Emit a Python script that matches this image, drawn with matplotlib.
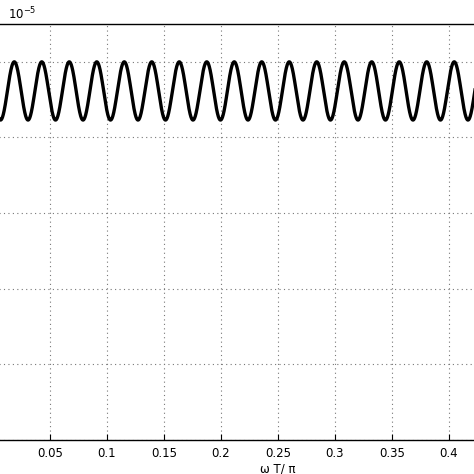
import numpy as np
import matplotlib
matplotlib.use("Agg")
import matplotlib.pyplot as plt

x_ticks = [0.05, 0.1, 0.15, 0.2, 0.25, 0.3, 0.35, 0.4]
x_tick_labels = ["0.05", "0.1", "0.15", "0.2", "0.25", "0.3", "0.35", "0.4"]
y_ticks = [0, 1, 2, 3, 4, 5]
peak_level = 5.0
trough_level = 4.23
period = 0.02412
peak_at = 0.1875

x = np.linspace(0, 0.5, 4000)
mid = (peak_level + trough_level) / 2
amp = (peak_level - trough_level) / 2
y = mid + amp * np.cos(2 * np.pi * (x - peak_at) / period)

fig = plt.figure(figsize=(4.74, 4.74), dpi=100)
ax = fig.add_axes([-7 / 474, 34 / 474, 570 / 474, 416 / 474])
ax.plot(x, y, color="black", lw=2.4)
ax.set_xlim(0, 0.5)
ax.set_ylim(0, 5.5)
ax.set_xticks(x_ticks)
ax.set_xticklabels(x_tick_labels, fontsize=8.5)
ax.set_yticks(y_ticks)
ax.set_yticklabels([])
ax.tick_params(direction="in", length=4, width=0.8, pad=5)
ax.grid(True, linestyle=(0, (1, 3)), color="#777777", lw=0.8)
for s in ax.spines.values():
    s.set_linewidth(1.0)
ax.set_xlabel("ω T/ π", fontsize=8.5, labelpad=2)
fig.text(8 / 474, 1 - 14 / 474, r"$10^{-5}$", fontsize=8.5, va="center", ha="left")
fig.savefig("out.png", dpi=100)
